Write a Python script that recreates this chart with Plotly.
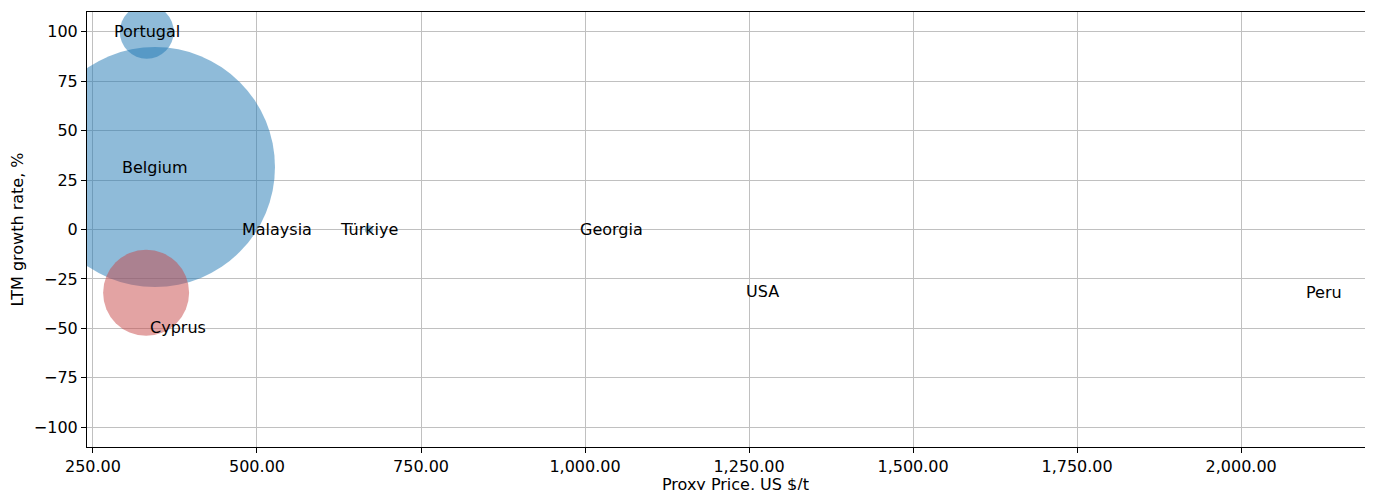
import plotly.graph_objects as go

# proxy price (US $/t), LTM growth (%), trade volume (bubble area)
countries = ["Belgium", "Portugal", "Cyprus", "Malaysia", "Türkiye", "Georgia", "USA", "Peru"]
price = [344.5, 332.0, 331.0, 530.5, 670.5, 1041.0, 1270.0, 2126.0]
growth = [31.6, 100.0, -32.0, 0.0, 0.0, 0.0, -31.6, -32.0]
volume = [14400, 729, 1849, 0, 16, 0, 1, 1]

BLUE = "rgba(31,119,180,0.5)"
RED = "rgba(200,72,72,0.5)"
colors = [RED if c == "Cyprus" else BLUE for c in countries]
# label nudges in px (text was pushed off the bubble in the original)
label_shift = {"Cyprus": (32, -35)}

FONT = "DejaVu Sans, Verdana, sans-serif"

fig = go.Figure()
fig.add_trace(go.Scatter(
    x=price, y=growth, mode="markers",
    marker=dict(size=volume, sizemode="area", sizeref=2 * max(volume) / 240 ** 2,
                color=colors, opacity=1, line=dict(width=0)),
    hoverinfo="text", text=countries, showlegend=False,
))

for c, x, y in zip(countries, price, growth):
    dx, dy = label_shift.get(c, (0, 0))
    fig.add_annotation(x=x, y=y, text=c, showarrow=False, xshift=dx, yshift=dy,
                       font=dict(size=16, color="black", family=FONT))

# x title as annotation: standoff is ignored without automargin
fig.add_annotation(text="Proxy Price, US $/t", xref="paper", yref="paper", x=0.504, y=0,
                   yanchor="middle", yshift=-37, showarrow=False,
                   font=dict(size=16, color="black", family=FONT))

axis_common = dict(
    showgrid=True, gridcolor="#c0c0c0", gridwidth=1, zeroline=False,
    showline=True, linecolor="black", linewidth=1,
    ticks="outside", ticklen=5, tickwidth=1, tickcolor="black",
    tickfont=dict(size=16, color="black", family=FONT),
    automargin=False,
)

fig.update_xaxes(
    range=[240.9, 2201], tickmode="array", tickvals=list(range(250, 2001, 250)),
    tickformat=",.2f", mirror=True,
    **axis_common,
)
fig.update_yaxes(
    range=[-110, 110], tickmode="array", tickvals=list(range(-100, 101, 25)),
    title=dict(text="LTM growth rate, %", font=dict(size=16, color="black", family=FONT), standoff=8),
    **axis_common,
)

# page body adds ~8px offset; size the figure so it fits the window and
# the axes land where the original has them
fig.update_layout(
    width=1365, height=482,
    margin=dict(l=79, r=0, t=4, b=43),
    plot_bgcolor="white", paper_bgcolor="white",
    font=dict(family=FONT, color="black"),
)

fig.write_html("out.html")
